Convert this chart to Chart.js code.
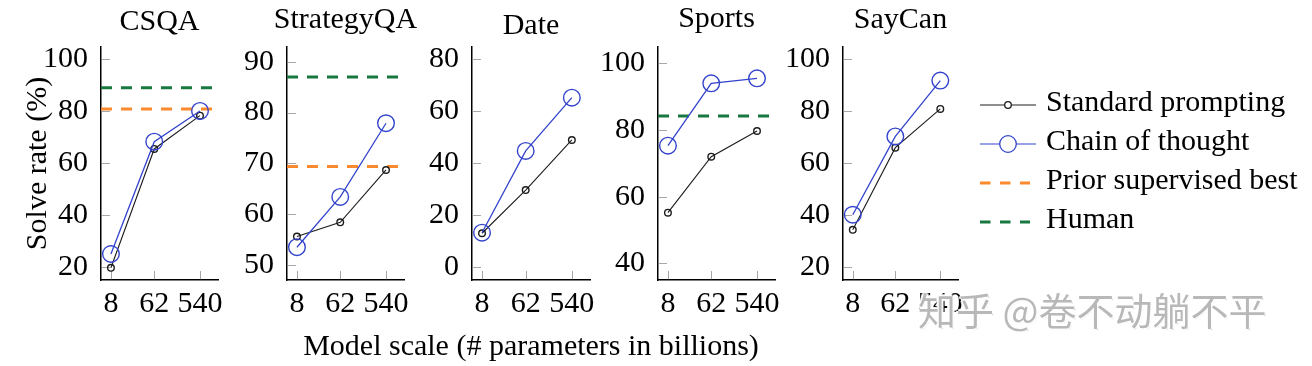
<!DOCTYPE html>
<html><head><meta charset="utf-8">
<script src="https://cdn.jsdelivr.net/npm/chart.js@4"></script>
<style>
html,body{margin:0;padding:0;background:#fff;}
#wrap{position:relative;width:1312px;height:366px;overflow:hidden;background:#fff;}
#wrap canvas{position:absolute;top:0;}
#wm{position:absolute;left:918px;top:287px;z-index:5;font-family:"Noto Sans CJK SC",sans-serif;font-size:38px;line-height:44px;color:rgba(178,178,178,0.92);white-space:nowrap;text-shadow:2px 0 1px #fff,-2px 0 1px #fff,0 2px 1px #fff,0 -2px 1px #fff,1px 1px 1px rgba(120,120,120,0.5);}
</style></head><body>
<div id="wrap"><div id="wm">知乎 @卷不动躺不平</div></div>
<script>
// ---- data ----
const taskNames = ['CSQA', 'StrategyQA', 'Date', 'Sports', 'SayCan'];
const modelScales = [8, 62, 540];
const modelScaleLabels = ['8', '62', '540'];
const standardPrompting = [
  [19.7, 65.4, 78.2],
  [55.6, 58.4, 68.7],
  [12.9, 29.5, 48.8],
  [55.2, 72.0, 79.7],
  [34.3, 65.9, 80.8]
];
const chainOfThought = [
  [25.0, 68.2, 80.0],
  [53.5, 63.4, 77.9],
  [13.1, 44.6, 65.1],
  [75.3, 94.0, 95.5],
  [40.1, 70.2, 91.7]
];
const priorSupervisedBest = [80.8, 69.4, null, null, null];
const humanScore = [88.9, 87.0, null, 84.2, null];
const yTickValues = [[20, 40, 60, 80, 100], [50, 60, 70, 80, 90], [0, 20, 40, 60, 80], [40, 60, 80, 100], [20, 40, 60, 80, 100]];
const yAxisMin = [15, 47.05, -5.1, 35, 15];
const yAxisMax = [104.6, 92.9, 84.6, 104.9, 104.6];
const xAxisMin = 5, xAxisMax = 1265;
const seriesNames = ['Standard prompting', 'Chain of thought', 'Prior supervised best', 'Human'];
const xAxisTitle = 'Model scale (# parameters in billions)';
const yAxisTitle = 'Solve rate (%)';

// ---- layout / style ----
const plotLeft = [101, 287, 472, 658, 843];
const plotRight = [218, 404, 590, 775, 958];
const titleBaseline = [30, 28.3, 34.3, 27.3, 28.3];
const BLACK = '#1c1c1c', BLUE = '#3344cc', ORANGE = '#fb8a2e', GREEN = '#17793f', TICKGRAY = '#a8a8a8';
const FONT = '"Liberation Serif", "Times New Roman", serif';
Chart.defaults.font.family = FONT;
Chart.defaults.font.size = 30;
Chart.defaults.color = '#000';

function panelPlugin(i, lines) {
  return {
    id: 'panelDecor',
    beforeDatasetsDraw(chart) {
      const {ctx, chartArea: {left, right, bottom}, scales: {x, y}} = chart;
      // inner tick marks
      ctx.save();
      ctx.strokeStyle = TICKGRAY; ctx.lineWidth = 1;
      ctx.beginPath();
      y.ticks.forEach(t => { const py = Math.round(y.getPixelForValue(t.value)) + 0.5; ctx.moveTo(left + 0.8, py); ctx.lineTo(left + 9, py); });
      x.ticks.forEach(t => { const px = Math.round(x.getPixelForValue(t.value)) + 0.5; ctx.moveTo(px, bottom - 0.8); ctx.lineTo(px, bottom - 9); });
      ctx.stroke();
      ctx.restore();
      lines.forEach(l => {
        if (l.value == null) return;
        const py = y.getPixelForValue(l.value);
        ctx.save();
        ctx.strokeStyle = l.color; ctx.lineWidth = 3; ctx.setLineDash([11, 9]);
        ctx.beginPath(); ctx.moveTo(left, py); ctx.lineTo(right, py); ctx.stroke();
        ctx.restore();
      });
    },
    afterDraw(chart) {
      const {ctx, chartArea: {left, right}} = chart;
      ctx.save();
      ctx.font = '30px ' + FONT;
      ctx.fillStyle = '#000';
      ctx.textAlign = 'center';
      ctx.textBaseline = 'alphabetic';
      ctx.fillText(taskNames[i], (left + right) / 2, titleBaseline[i]);
      if (i === 2) ctx.fillText(xAxisTitle, (left + right) / 2, 355);
      ctx.restore();
    }
  };
}

const legendPlugin = {
  id: 'customLegend',
  afterDraw(chart) {
    const {ctx} = chart;
    const x0 = chart.chartArea.right + 22, lineLen = 56, textX = x0 + 66;
    const rowY = [105, 144, 183, 222];
    ctx.save();
    ctx.font = '30px ' + FONT;
    ctx.textBaseline = 'middle';
    // standard
    ctx.strokeStyle = BLACK; ctx.lineWidth = 1;
    ctx.beginPath(); ctx.moveTo(x0, rowY[0]); ctx.lineTo(x0 + lineLen, rowY[0]); ctx.stroke();
    ctx.lineWidth = 1.3; ctx.fillStyle = '#fff';
    ctx.beginPath(); ctx.arc(x0 + lineLen / 2, rowY[0], 3.3, 0, Math.PI * 2); ctx.fill(); ctx.stroke();
    // cot
    ctx.strokeStyle = BLUE; ctx.lineWidth = 1.2;
    ctx.beginPath(); ctx.moveTo(x0, rowY[1]); ctx.lineTo(x0 + lineLen, rowY[1]); ctx.stroke();
    ctx.lineWidth = 1.3;
    ctx.beginPath(); ctx.arc(x0 + lineLen / 2, rowY[1], 8.3, 0, Math.PI * 2); ctx.fill(); ctx.stroke();
    // dashed
    [[ORANGE, rowY[2]], [GREEN, rowY[3]]].forEach(([c, yy]) => {
      ctx.save(); ctx.strokeStyle = c; ctx.lineWidth = 3; ctx.setLineDash([10.5, 9.5]);
      ctx.beginPath(); ctx.moveTo(x0, yy); ctx.lineTo(x0 + 50, yy); ctx.stroke(); ctx.restore();
    });
    ctx.fillStyle = '#000';
    seriesNames.forEach((n, k) => ctx.fillText(n, textX, rowY[k] - 2));
    ctx.restore();
  }
};

const wrap = document.getElementById('wrap');
taskNames.forEach((name, i) => {
  const canvas = document.createElement('canvas');
  let left, padLeft = 0, padRight;
  if (i === 0) left = 0;
  else if (i === 2) { left = 250; padLeft = plotLeft[i] - 70 - left; }
  else left = plotLeft[i] - 70;
  const yW = plotLeft[i] - left - padLeft;
  if (i === 4) padRight = 1312 - plotRight[i];
  else if (i === 2) padRight = 222;
  else padRight = 20;
  const width = plotRight[i] + padRight - left;
  canvas.width = width; canvas.height = 366;
  canvas.style.left = left + 'px'; canvas.style.width = width + 'px'; canvas.style.height = '366px';
  wrap.insertBefore(canvas, document.getElementById('wm'));
  const plugins = [panelPlugin(i, [
    {value: priorSupervisedBest[i], color: ORANGE},
    {value: humanScore[i], color: GREEN}
  ])];
  if (i === 4) plugins.push(legendPlugin);
  new Chart(canvas, {
    type: 'line',
    data: {
      datasets: [
        {
          label: seriesNames[1],
          data: modelScales.map((s, k) => ({x: s, y: chainOfThought[i][k]})),
          borderColor: BLUE, borderWidth: 1.3, tension: 0, fill: false, clip: false,
          pointRadius: 8.3, pointBorderWidth: 1.4, pointBorderColor: BLUE, pointBackgroundColor: 'rgba(0,0,0,0)'
        },
        {
          label: seriesNames[0],
          data: modelScales.map((s, k) => ({x: s, y: standardPrompting[i][k]})),
          borderColor: BLACK, borderWidth: 1.1, tension: 0, fill: false, clip: false,
          pointRadius: 3.3, pointBorderWidth: 1.4, pointBorderColor: BLACK, pointBackgroundColor: 'rgba(0,0,0,0)'
        }
      ]
    },
    options: {
      responsive: false, animation: false, devicePixelRatio: 1, events: [],
      layout: {padding: {left: padLeft, right: padRight, top: 47, bottom: 0}},
      plugins: {
        legend: {display: false},
        tooltip: {enabled: false},
        title: {display: false}
      },
      scales: {
        x: {
          type: 'logarithmic', min: xAxisMin, max: xAxisMax,
          afterBuildTicks: s => { s.ticks = modelScales.map(v => ({value: v})); },
          afterFit: s => { s.height = 86; },
          grid: {display: false, drawTicks: false},
          border: {display: true, color: '#000', width: 1.5},
          ticks: {autoSkip: false, maxRotation: 0, padding: 6, color: '#000', font: {size: 30, lineHeight: 1.2},
                  callback: (v, idx) => modelScaleLabels[idx]}
        },
        y: {
          type: 'linear', min: yAxisMin[i], max: yAxisMax[i],
          afterBuildTicks: s => { s.ticks = yTickValues[i].map(v => ({value: v})); },
          afterFit: s => { s.width = yW; },
          grid: {display: false, drawTicks: false},
          border: {display: true, color: '#000', width: 1.5},
          ticks: {padding: 13, color: '#000', font: {size: 30, lineHeight: 1.2}},
          title: {display: i === 0, text: yAxisTitle, color: '#000', font: {size: 30, lineHeight: 1.2}, padding: {top: 20, bottom: 0}}
        }
      }
    },
    plugins: plugins
  });
});
</script>
</body></html>
